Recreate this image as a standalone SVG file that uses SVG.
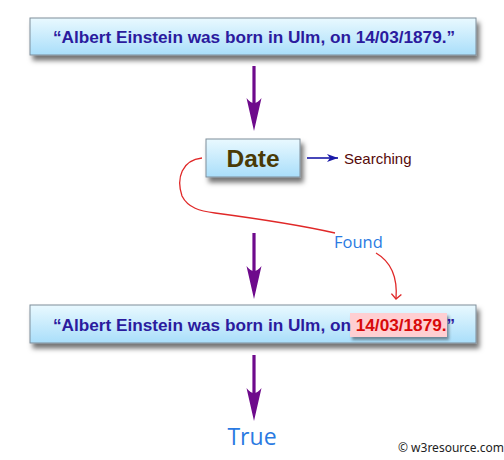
<svg xmlns="http://www.w3.org/2000/svg" width="504" height="460" viewBox="0 0 504 460">
<defs>
<linearGradient id="boxg" x1="0" y1="0" x2="0" y2="1">
<stop offset="0" stop-color="#e9f9ff"/>
<stop offset="1" stop-color="#a9defa"/>
</linearGradient>
<filter id="sh" x="-10%" y="-30%" width="130%" height="180%">
<feDropShadow dx="3" dy="5" stdDeviation="2.5" flood-color="#000" flood-opacity="0.55"/>
</filter>
<filter id="sh2" x="-10%" y="-30%" width="130%" height="180%">
<feDropShadow dx="2" dy="3" stdDeviation="1.5" flood-color="#000" flood-opacity="0.4"/>
</filter>
<marker id="blueHead" markerWidth="12" markerHeight="10" refX="11" refY="5" orient="auto" markerUnits="userSpaceOnUse">
<path d="M0,1 L11,5 L0,9 L3,5 Z" fill="#1a1aa8"/>
</marker>
<marker id="redHead" markerWidth="12" markerHeight="12" refX="6" refY="6" orient="auto" markerUnits="userSpaceOnUse">
<path d="M1,1 L6,6 L1,11" fill="none" stroke="#e02828" stroke-width="1.4"/>
</marker>
</defs>
<style>
.box{fill:url(#boxg);stroke:#7f8d99;stroke-width:1;filter:url(#sh)}
.sent{font-family:"Liberation Sans",Arial,sans-serif;font-weight:bold;font-size:17.2px;fill:#2b1b9e}
.purp{stroke:#6e0a8c;stroke-width:3.2;fill:none}
.phead{fill:#6e0a8c}
.lbl{font-family:"Open Sans","Noto Sans",sans-serif;fill:#2a7ae2}
</style>

<g id="node-top">
<rect class="box" x="30" y="18" width="446" height="37"/>
<text class="sent" x="53" y="43">“Albert Einstein was born in Ulm, on 14/03/1879.”</text>
</g>

<g id="node-date">
<rect class="box" x="206" y="139" width="94" height="38"/>
<text x="253" y="167" text-anchor="middle" font-family="Liberation Sans,Arial,sans-serif" font-weight="bold" font-size="24.5px" fill="#4a3a05">Date</text>
</g>

<g id="node-searching">
<text x="344" y="164" font-family="Liberation Sans,Arial,sans-serif" font-size="15px" fill="#560a0a">Searching</text>
</g>

<g id="node-bottom">
<rect class="box" x="30" y="305" width="446" height="38"/>
<rect x="350" y="313" width="97" height="24" fill="#ffcfd2" style="filter:url(#sh2)"/>
<text class="sent" x="53" y="331">“Albert Einstein was born in Ulm, on <tspan fill="#d80a0a">14/03/1879.</tspan>”</text>
</g>

<g id="node-true">
<text class="lbl" x="252" y="445" text-anchor="middle" font-size="23px">True</text>
</g>

<g id="connectors">
<line class="purp" x1="254" y1="66" x2="254" y2="112"/>
<path class="phead" d="M254,131 L246.5,98 Q254,108 261.5,98 Z"/>
<line class="purp" x1="254" y1="233" x2="254" y2="280"/>
<path class="phead" d="M254,299 L246.5,266 Q254,276 261.5,266 Z"/>
<line class="purp" x1="254" y1="355" x2="254" y2="402"/>
<path class="phead" d="M254,421 L246.5,388 Q254,398 261.5,388 Z"/>
<line x1="307" y1="158" x2="338" y2="158" stroke="#1a1aa8" stroke-width="1.6" marker-end="url(#blueHead)"/>
<path d="M202,158 C182,160 176,178 182,196 C188,208 200,211 215,213 C260,219 300,225 335,233" fill="none" stroke="#e02828" stroke-width="1.3"/>
<path d="M376,253 C388,260 398,274 396,299" fill="none" stroke="#e02828" stroke-width="1.3" marker-end="url(#redHead)"/>
<text class="lbl" x="334" y="248" font-size="16.5px">Found</text>
</g>

<g id="credit">
<text x="398" y="452" font-family="Noto Sans,sans-serif" font-size="12px" fill="#222">© w3resource.com</text>
</g>
</svg>
